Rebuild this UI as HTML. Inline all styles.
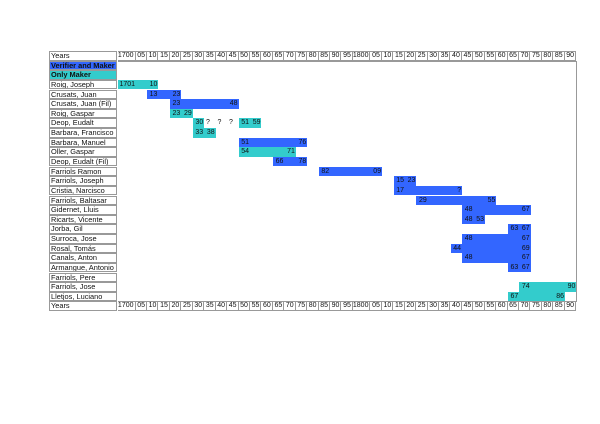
<!DOCTYPE html>
<html><head><meta charset="utf-8"><style>
*{margin:0;padding:0;box-sizing:border-box}
body{width:600px;height:424px;background:#fff;position:relative;overflow:hidden;font-family:"Liberation Sans",Arial,sans-serif;font-size:7.4px;color:#111}
.l{position:absolute;left:49px;width:68px;height:9.6px;border:1px solid #999;line-height:8px;padding-left:1px;white-space:nowrap;overflow:hidden}
.h{position:absolute;left:117.5px;height:9.6px;display:flex;font-size:7px}
.h span{display:block;height:9.6px;border:1px solid #999;border-left:none;text-align:right;line-height:8px;padding-right:1px;flex:none}
.b{position:absolute;height:9.6px;line-height:9.6px;font-size:7px}
.B{background:#3366ff}.C{background:#33cccc}
.b i{font-style:normal;position:absolute;top:0;text-align:right}
.b .r{right:1px}
.q{position:absolute;line-height:9.6px;font-size:7px}
</style></head><body>
<div style="position:absolute;left:117.5px;top:60.6px;width:459px;height:241px;border:1px solid #999;border-left:none"></div>

<div class="h" style="top:51px">
<span style="width:18px">1700</span><span style="width:11.5px">05</span><span style="width:11.45px">10</span><span style="width:11.45px">15</span><span style="width:11.45px">20</span><span style="width:11.45px">25</span><span style="width:11.45px">30</span><span style="width:11.45px">35</span><span style="width:11.45px">40</span><span style="width:11.45px">45</span><span style="width:11.45px">50</span><span style="width:11.45px">55</span><span style="width:11.45px">60</span><span style="width:11.45px">65</span><span style="width:11.45px">70</span><span style="width:11.45px">75</span><span style="width:11.45px">80</span><span style="width:11.45px">85</span><span style="width:11.45px">90</span><span style="width:11.45px">95</span><span style="width:17.6px">1800</span><span style="width:11.43px">05</span><span style="width:11.43px">10</span><span style="width:11.43px">15</span><span style="width:11.43px">20</span><span style="width:11.43px">25</span><span style="width:11.43px">30</span><span style="width:11.43px">35</span><span style="width:11.43px">40</span><span style="width:11.43px">45</span><span style="width:11.43px">50</span><span style="width:11.43px">55</span><span style="width:11.43px">60</span><span style="width:11.43px">65</span><span style="width:11.43px">70</span><span style="width:11.43px">75</span><span style="width:11.43px">80</span><span style="width:11.43px">85</span><span style="width:11.43px">90</span>
</div>
<div class="h" style="top:301.4px">
<span style="width:18px">1700</span><span style="width:11.5px">05</span><span style="width:11.45px">10</span><span style="width:11.45px">15</span><span style="width:11.45px">20</span><span style="width:11.45px">25</span><span style="width:11.45px">30</span><span style="width:11.45px">35</span><span style="width:11.45px">40</span><span style="width:11.45px">45</span><span style="width:11.45px">50</span><span style="width:11.45px">55</span><span style="width:11.45px">60</span><span style="width:11.45px">65</span><span style="width:11.45px">70</span><span style="width:11.45px">75</span><span style="width:11.45px">80</span><span style="width:11.45px">85</span><span style="width:11.45px">90</span><span style="width:11.45px">95</span><span style="width:17.6px">1800</span><span style="width:11.43px">05</span><span style="width:11.43px">10</span><span style="width:11.43px">15</span><span style="width:11.43px">20</span><span style="width:11.43px">25</span><span style="width:11.43px">30</span><span style="width:11.43px">35</span><span style="width:11.43px">40</span><span style="width:11.43px">45</span><span style="width:11.43px">50</span><span style="width:11.43px">55</span><span style="width:11.43px">60</span><span style="width:11.43px">65</span><span style="width:11.43px">70</span><span style="width:11.43px">75</span><span style="width:11.43px">80</span><span style="width:11.43px">85</span><span style="width:11.43px">90</span>
</div>

<div class="l" style="top:51px">Years</div>
<div class="l B" style="top:60.6px;font-weight:bold">Verifier and Maker</div>
<div class="l C" style="top:70.3px;font-weight:bold">Only Maker</div>
<div class="l" style="top:79.9px">Roig, Joseph</div>
<div class="l" style="top:89.5px">Crusats, Juan</div>
<div class="l" style="top:99.2px">Crusats, Juan (Fil)</div>
<div class="l" style="top:108.8px">Roig, Gaspar</div>
<div class="l" style="top:118.4px">Deop, Eudalt</div>
<div class="l" style="top:128px">Barbara, Francisco</div>
<div class="l" style="top:137.7px">Barbara, Manuel</div>
<div class="l" style="top:147.3px">Oller, Gaspar</div>
<div class="l" style="top:156.9px">Deop, Eudalt (Fil)</div>
<div class="l" style="top:166.6px">Farriols Ramon</div>
<div class="l" style="top:176.2px">Farriols, Joseph</div>
<div class="l" style="top:185.8px">Cristia, Narcisco</div>
<div class="l" style="top:195.5px">Farriols, Baltasar</div>
<div class="l" style="top:205.1px">Gidernet, Lluis</div>
<div class="l" style="top:214.7px">Ricarts, Vicente</div>
<div class="l" style="top:224.3px">Jorba, Gil</div>
<div class="l" style="top:234px">Surroca, Jose</div>
<div class="l" style="top:243.6px">Rosal, Tomás</div>
<div class="l" style="top:253.2px">Canals, Anton</div>
<div class="l" style="top:262.9px">Armangue, Antonio</div>
<div class="l" style="top:272.5px">Farriols, Pere</div>
<div class="l" style="top:282.1px">Farriols, Jose</div>
<div class="l" style="top:291.8px">Lletjos, Luciano</div>
<div class="l" style="top:301.4px">Years</div>

<div class="b C" style="top:79.9px;left:117.5px;width:40.9px"><i style="left:2px">1701</i><i class="r">10</i></div>
<div class="b B" style="top:89.5px;left:147px;width:34.4px"><i style="left:0;width:10.4px">13</i><i class="r">23</i></div>
<div class="b B" style="top:99.2px;left:169.9px;width:68.7px"><i style="left:0;width:10.4px">23</i><i class="r">48</i></div>
<div class="b C" style="top:108.8px;left:169.9px;width:22.9px"><i style="left:0;width:10.4px">23</i><i class="r">29</i></div>
<div class="b C" style="top:118.4px;left:192.8px;width:11.5px"><i class="r">30</i></div>
<div class="q" style="top:118.4px;left:206px">?</div>
<div class="q" style="top:118.4px;left:217.5px">?</div>
<div class="q" style="top:118.4px;left:229px">?</div>
<div class="b C" style="top:118.4px;left:238.6px;width:22.9px"><i style="left:0;width:10.4px">51</i><i class="r">59</i></div>
<div class="b C" style="top:128px;left:192.8px;width:22.9px"><i style="left:0;width:10.4px">33</i><i class="r">38</i></div>
<div class="b B" style="top:137.7px;left:238.6px;width:68.7px"><i style="left:0;width:10.4px">51</i><i class="r">76</i></div>
<div class="b C" style="top:147.3px;left:238.6px;width:57.3px"><i style="left:0;width:10.4px">54</i><i class="r">71</i></div>
<div class="b B" style="top:156.9px;left:273px;width:34.3px"><i style="left:0;width:10.4px">66</i><i class="r">78</i></div>
<div class="b B" style="top:166.6px;left:318.8px;width:63.3px"><i style="left:0;width:10.4px">82</i><i class="r">09</i></div>
<div class="b B" style="top:176.2px;left:393.6px;width:22.8px"><i style="left:0;width:10.4px">15</i><i class="r">23</i></div>
<div class="b B" style="top:185.8px;left:393.6px;width:68.5px"><i style="left:0;width:10.4px">17</i><i class="r">?</i></div>
<div class="b B" style="top:195.5px;left:416.4px;width:80px"><i style="left:0;width:10.4px">29</i><i class="r">55</i></div>
<div class="b B" style="top:205.1px;left:462.1px;width:68.6px"><i style="left:0;width:10.4px">48</i><i class="r">67</i></div>
<div class="b B" style="top:214.7px;left:462.1px;width:22.9px"><i style="left:0;width:10.4px">48</i><i class="r">53</i></div>
<div class="b B" style="top:224.3px;left:507.9px;width:22.8px"><i style="left:0;width:10.4px">63</i><i class="r">67</i></div>
<div class="b B" style="top:234px;left:462.1px;width:68.6px"><i style="left:0;width:10.4px">48</i><i class="r">67</i></div>
<div class="b B" style="top:243.6px;left:450.7px;width:80px"><i style="left:0;width:10.4px">44</i><i class="r">69</i></div>
<div class="b B" style="top:253.2px;left:462.1px;width:68.6px"><i style="left:0;width:10.4px">48</i><i class="r">67</i></div>
<div class="b B" style="top:262.9px;left:507.9px;width:22.8px"><i style="left:0;width:10.4px">63</i><i class="r">67</i></div>
<div class="b C" style="top:282.1px;left:519.3px;width:57.1px"><i style="left:0;width:10.4px">74</i><i class="r">90</i></div>
<div class="b C" style="top:291.8px;left:507.9px;width:57.1px"><i style="left:0;width:10.4px">67</i><i class="r">86</i></div>
</body></html>
